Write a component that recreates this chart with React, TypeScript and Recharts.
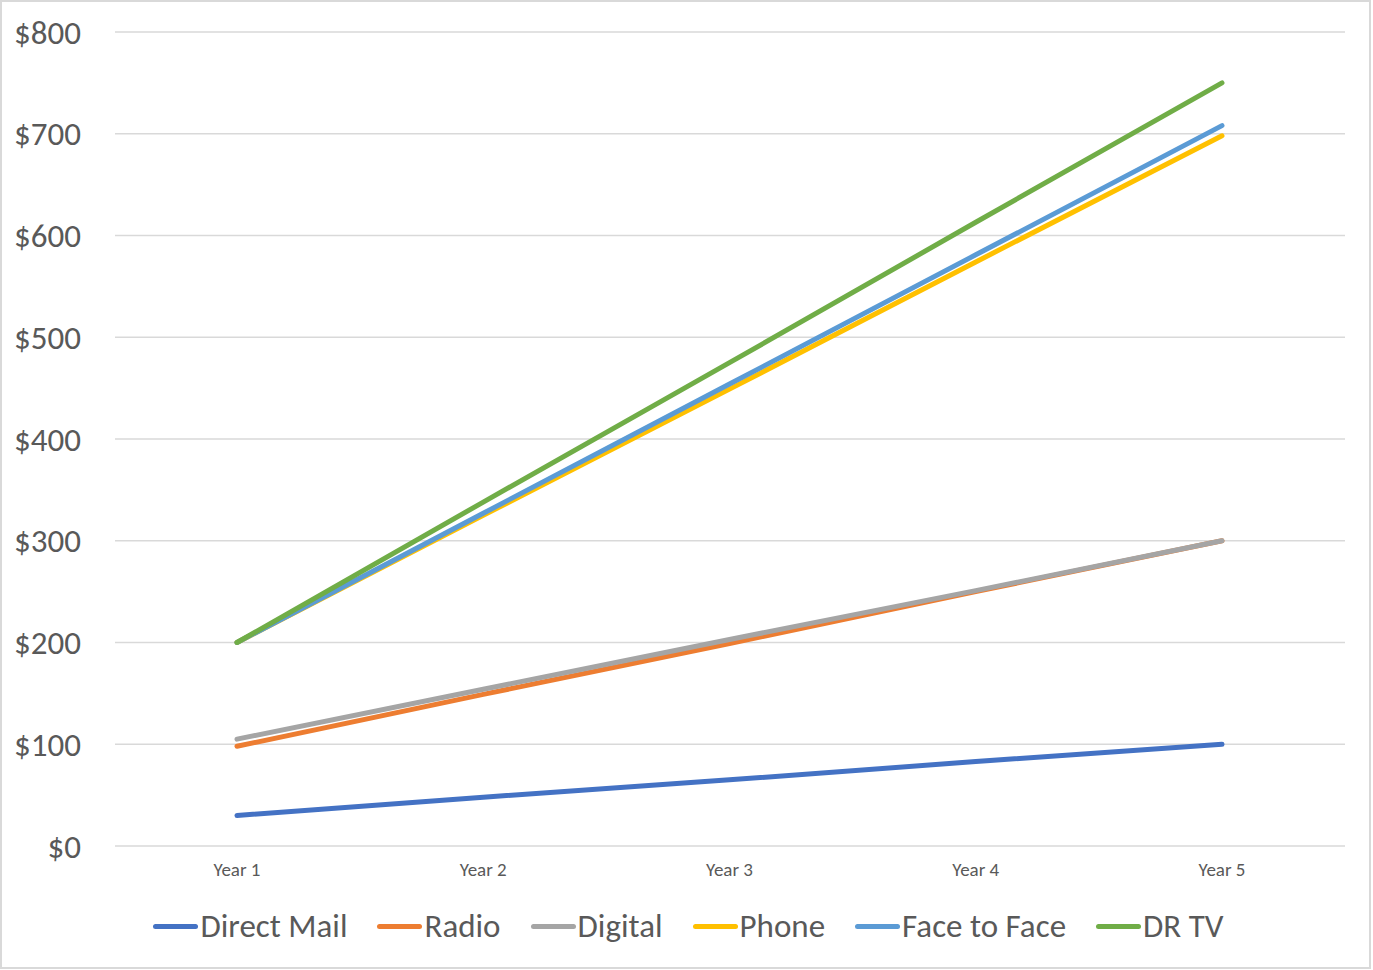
import { LineChart, Line, XAxis, YAxis, CartesianGrid, Legend } from "recharts";

const years = ["Year 1", "Year 2", "Year 3", "Year 4", "Year 5"];
const directMail = [30, 48, 65, 83, 100];
const radio = [98, 149, 199, 250, 300];
const digital = [105, 154, 203, 251, 300];
const phone = [200, 325, 449, 574, 698];
const faceToFace = [200, 327, 454, 581, 708];
const drTv = [200, 338, 475, 613, 750];
const yTicks = [0, 100, 200, 300, 400, 500, 600, 700, 800];

const series = [
  { key: "directMail", name: "Direct Mail", color: "#4472C4", values: directMail },
  { key: "radio", name: "Radio", color: "#ED7D31", values: radio },
  { key: "digital", name: "Digital", color: "#A5A5A5", values: digital },
  { key: "phone", name: "Phone", color: "#FFC000", values: phone },
  { key: "faceToFace", name: "Face to Face", color: "#5B9BD5", values: faceToFace },
  { key: "drTv", name: "DR TV", color: "#70AD47", values: drTv },
];

const data = years.map((year, i) => {
  const row: any = { name: year };
  series.forEach((s) => {
    row[s.key] = s.values[i];
  });
  return row;
});

const FONT = "Carlito, Calibri, Lato, sans-serif";
const TEXT = "#595959";

const CustomLegend = () => (
  <div
    style={{
      display: "flex",
      justifyContent: "center",
      alignItems: "center",
      height: 64,
      paddingLeft: 32,
      fontFamily: FONT,
      fontSize: 33,
      color: TEXT,
    }}
  >
    {series.map((s) => (
      <div key={s.key} style={{ display: "flex", alignItems: "center", margin: "0 15px" }}>
        <span
          style={{
            display: "inline-block",
            width: 45,
            height: 5,
            borderRadius: 3,
            background: s.color,
            marginRight: 2,
          }}
        ></span>
        <span>{s.name}</span>
      </div>
    ))}
  </div>
);

export default function App() {
  return (
    <div style={{ position: "absolute", left: 0, top: 0, width: 1373, height: 970, background: "#fff" }}>
      <LineChart
        width={1373}
        height={970}
        data={data}
        margin={{ top: 32, right: 28, left: 0, bottom: 12 }}
      >
        <CartesianGrid vertical={false} stroke="#d9d9d9" strokeWidth={1.5} />
        <XAxis
          dataKey="name"
          height={48}
          axisLine={false}
          tickLine={false}
          tickSize={0}
          tickMargin={17}
          padding={{ left: 122, right: 123 }}
          tick={{ fill: TEXT, fontSize: 19, fontFamily: FONT }}
        />
        <YAxis
          width={115}
          domain={[0, 800]}
          ticks={yTicks}
          axisLine={false}
          tickLine={false}
          tickSize={0}
          tickMargin={34}
          tickFormatter={(v) => `$${v}`}
          tick={{ fill: TEXT, fontSize: 33, fontFamily: FONT }}
        />
        <Legend
          verticalAlign="bottom"
          content={<CustomLegend />}
          wrapperStyle={{ height: 64 }}
        />
        {series.map((s) => (
          <Line
            key={s.key}
            dataKey={s.key}
            name={s.name}
            stroke={s.color}
            strokeWidth={5}
            strokeLinecap="round"
            dot={false}
            activeDot={false}
            isAnimationActive={false}
          />
        ))}
      </LineChart>
      <div
        style={{
          position: "absolute",
          left: 0,
          top: 0,
          width: 1371,
          height: 969,
          border: "2px solid #d9d9d9",
          boxSizing: "border-box",
          pointerEvents: "none",
        }}
      ></div>
    </div>
  );
}
